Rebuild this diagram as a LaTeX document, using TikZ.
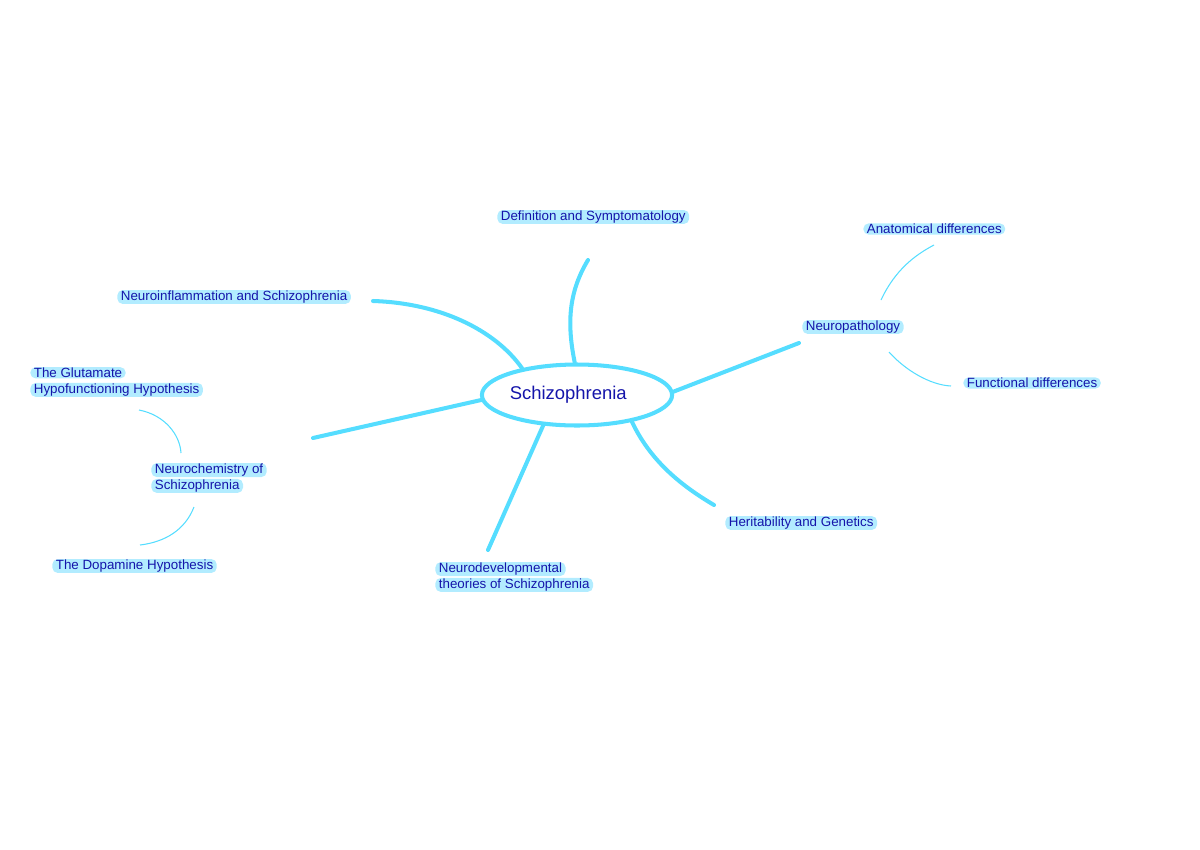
\documentclass[tikz,border=0pt]{standalone}
\usepackage{fontspec}
\setmainfont{Liberation Sans}
\usetikzlibrary{shapes, calc, positioning}
\definecolor{branch}{RGB}{85,221,255}
\definecolor{hilite}{RGB}{178,236,255}
\definecolor{ink}{RGB}{20,20,170}
\newcommand{\hl}[1]{\tikz[baseline=(h.base)]\node[fill=hilite, rounded corners=3pt, inner xsep=2pt, inner ysep=0.4pt] (h) {#1};}

\begin{document}
\begin{tikzpicture}[x=0.02cm, y=-0.02cm, font=\fontsize{7.6}{9}\selectfont,
    every node/.style={text=ink},
    topic/.style={inner sep=0pt, anchor=west, align=left},
    main/.style={draw=branch, line width=2.3pt, ellipse, inner sep=0pt, minimum width=3.72cm, minimum height=1.22cm, font=\fontsize{10.5}{12}\selectfont},
    mainline/.style={draw=branch, line width=2.3pt, line cap=round},
    subline/.style={draw=branch, line width=0.6pt}]
    \useasboundingbox (0,0) rectangle (1200,849);

    \coordinate (e01) at (588,260);
    \coordinate (e02) at (373,301);
    \coordinate (e03) at (313,438);
    \coordinate (e04) at (488,550);
    \coordinate (e05) at (714,505);
    \coordinate (e06) at (799,343);

    \coordinate (f01) at (881,300);
    \coordinate (f02) at (934,245);
    \coordinate (f03) at (889,352);
    \coordinate (f04) at (951,386);
    \coordinate (f05) at (139,410);
    \coordinate (f06) at (181,453);
    \coordinate (f07) at (194,507);
    \coordinate (f08) at (140,545);

    \node[main] (root) at (577,395) {Schizophrenia\hspace*{10pt}};

    \node[topic] (def) at (497,217) {\hl{Definition and Symptomatology}};
    \node[topic] (anat) at (863,229) {\hl{Anatomical differences}};
    \node[topic] (infl) at (117,297) {\hl{Neuroinflammation and Schizophrenia}};
    \node[topic] (path) at (802,327) {\hl{Neuropathology}};
    \node[topic] (glut) at (30,382) {\hl{The Glutamate}\\\hl{Hypofunctioning Hypothesis}};
    \node[topic] (func) at (963,383) {\hl{Functional differences}};
    \node[topic] (chem) at (151,478) {\hl{Neurochemistry of}\\\hl{Schizophrenia}};
    \node[topic] (herit) at (725,523) {\hl{Heritability and Genetics}};
    \node[topic] (dopa) at (52,566) {\hl{The Dopamine Hypothesis}};
    \node[topic] (devel) at (435,577) {\hl{Neurodevelopmental}\\\hl{theories of Schizophrenia}};

    \draw[mainline] (root.94) .. controls (566,320) and (570,290) .. (e01);
    \draw[mainline] (root.154) .. controls (495,330) and (440,303) .. (e02);
    \draw[mainline] (root.183) -- (e03);
    \draw[mainline] (root.222) -- (e04);
    \draw[mainline] (root.-26) .. controls (650,460) and (680,485) .. (e05);
    \draw[mainline] (root.2) -- (e06);

    \draw[subline] (f01) .. controls (895,270) and (915,255) .. (f02);
    \draw[subline] (f03) .. controls (905,370) and (930,385) .. (f04);
    \draw[subline] (f05) .. controls (165,415) and (180,435) .. (f06);
    \draw[subline] (f07) .. controls (185,530) and (165,542) .. (f08);
  \end{tikzpicture}
\end{document}
